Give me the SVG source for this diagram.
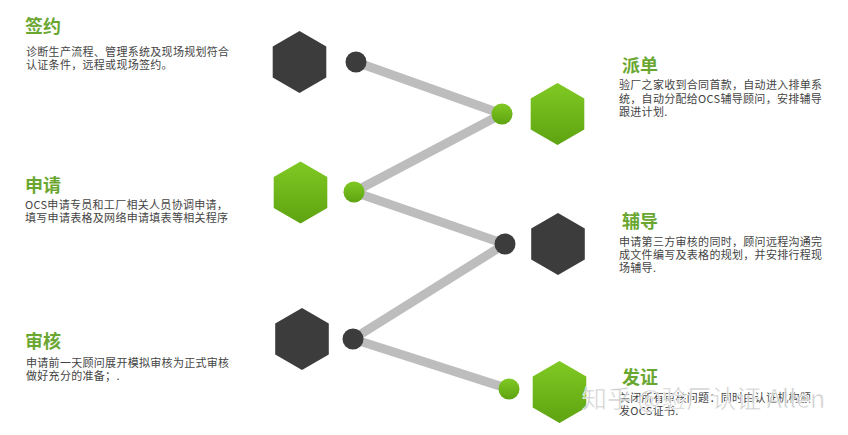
<svg xmlns="http://www.w3.org/2000/svg" width="848" height="435" viewBox="0 0 848 435">
<style>
.title{font-family:"Noto Sans CJK SC","Noto Sans",sans-serif;font-size:18px;font-weight:700;fill:#6aa731}
.body{font-family:"Noto Sans CJK SC","Noto Sans",sans-serif;font-size:11px;letter-spacing:0.3px;fill:#444}
.link{stroke:#bdbdbd;stroke-width:9;stroke-linecap:butt;fill:none}
.dark{fill:#3c3c3c}
.green{fill:url(#g)}
.wm{font-family:"Noto Sans CJK SC","Noto Sans",sans-serif;font-size:25px;fill:#c4c4c4;fill-opacity:0.85;stroke:#ffffff;stroke-width:0.6}
</style>
<defs>
<linearGradient id="g" x1="0" y1="0" x2="0" y2="1">
<stop offset="0" stop-color="#80c923"/>
<stop offset="1" stop-color="#5ea311"/>
</linearGradient>
<polygon id="hex" points="0,-31 26.8,-15.5 26.8,15.5 0,31 -26.8,15.5 -26.8,-15.5"/>
</defs>
<rect width="848" height="435" fill="#ffffff"/>
<g id="connectors">
<polyline class="link" points="356,62 502,114 354,192 505,244 353,339 509,389"/>
</g>
<g id="node-qianyue">
<use href="#hex" class="dark" x="299.5" y="62"/>
<circle class="dark" cx="356" cy="62" r="10.5"/>
<text class="title" x="25" y="33">签约</text>
<text class="body" x="26" y="56">诊断生产流程、管理系统及现场规划符合</text>
<text class="body" x="26" y="69">认证条件，远程或现场签约。</text>
</g>
<g id="node-paidan">
<use href="#hex" class="green" x="557.5" y="114"/>
<circle class="green" cx="502" cy="114" r="10.5"/>
<text class="title" x="622" y="72">派单</text>
<text class="body" x="619" y="89">验厂之家收到合同首款，自动进入排单系</text>
<text class="body" x="619" y="102.5">统，自动分配给OCS辅导顾问，安排辅导</text>
<text class="body" x="619" y="116">跟进计划.</text>
</g>
<g id="node-shenqing">
<use href="#hex" class="green" x="300.5" y="192.5"/>
<circle class="green" cx="354" cy="192" r="10.5"/>
<text class="title" x="25" y="192">申请</text>
<text class="body" x="25" y="209">OCS申请专员和工厂相关人员协调申请，</text>
<text class="body" x="25" y="222">填写申请表格及网络申请填表等相关程序</text>
</g>
<g id="node-fudao">
<use href="#hex" class="dark" x="558" y="244"/>
<circle class="dark" cx="505" cy="244" r="10.5"/>
<text class="title" x="622" y="228">辅导</text>
<text class="body" x="619" y="246">申请第三方审核的同时，顾问远程沟通完</text>
<text class="body" x="619" y="259">成文件编写及表格的规划，并安排行程现</text>
<text class="body" x="619" y="272">场辅导.</text>
</g>
<g id="node-shenhe">
<use href="#hex" class="dark" x="302" y="339"/>
<circle class="dark" cx="353" cy="339" r="10.5"/>
<text class="title" x="25" y="348">审核</text>
<text class="body" x="26" y="367">申请前一天顾问展开模拟审核为正式审核</text>
<text class="body" x="26" y="380">做好充分的准备；.</text>
</g>
<g id="node-fazheng">
<use href="#hex" class="green" x="559.5" y="392"/>
<circle class="green" cx="509" cy="389" r="10.5"/>
<text class="title" x="622" y="384">发证</text>
<text class="body" x="619" y="402">关闭所有审核问题：同时由认证机构颁</text>
<text class="body" x="619" y="415">发OCS证书.</text>
</g>
<text class="wm" x="582" y="408">知乎 @验厂认证 Allen</text>
</svg>
